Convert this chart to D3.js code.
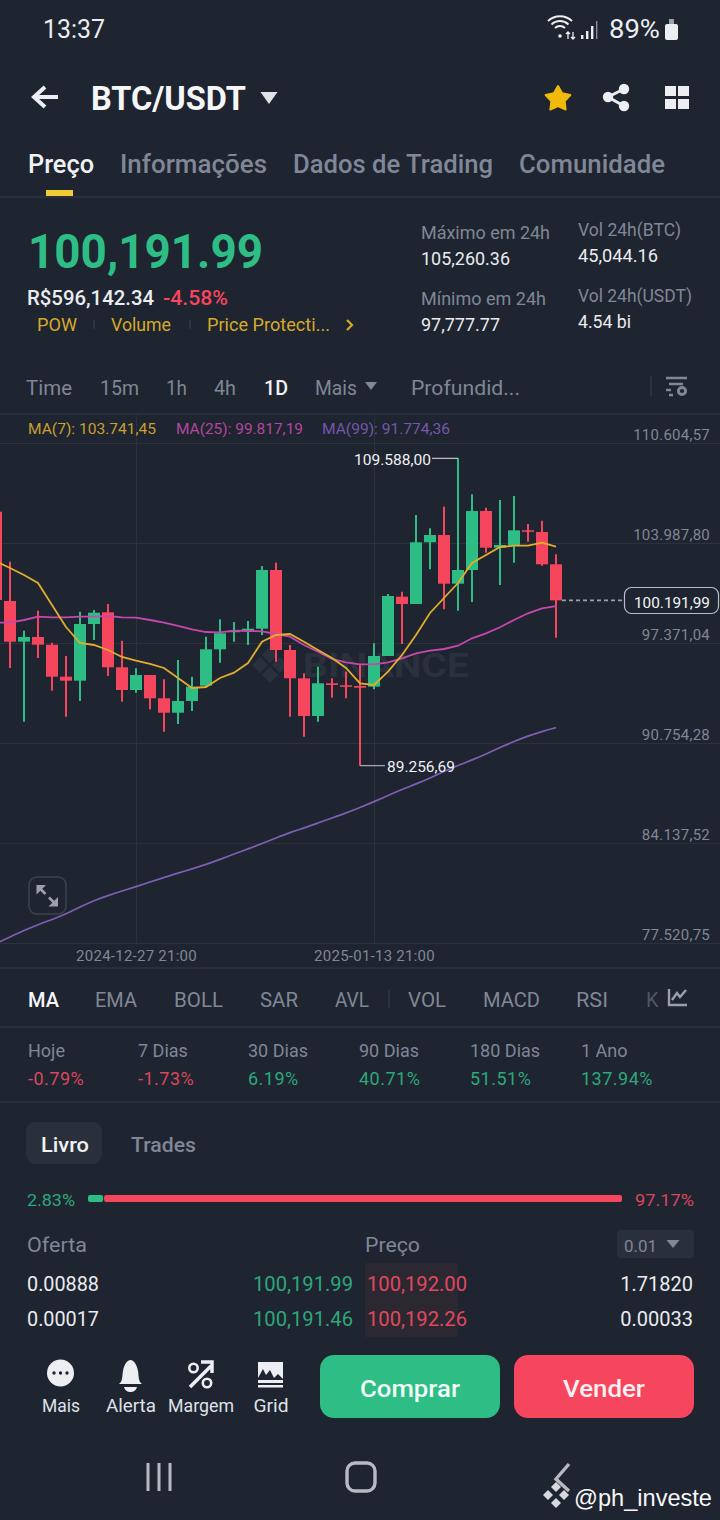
<!DOCTYPE html>
<html>
<head>
<meta charset="utf-8">
<style>
html, body { margin: 0; padding: 0; background: #1e2430; }
svg { display: block; }
text { font-family: Roboto, sans-serif; }
.axis path { display: none; }
.axis line { stroke: #2c323d; }
.axis text { fill: #808796; font-size: 15px; letter-spacing: 0.25px; font-family: Roboto, sans-serif; }
</style>
</head>
<body>
<svg width="720" height="1520"></svg>
<script src="https://d3js.org/d3.v7.min.js"></script>
<script>
// chart data
var days = ["2024-12-17","2024-12-18","2024-12-19","2024-12-20","2024-12-21","2024-12-22","2024-12-23","2024-12-24","2024-12-25","2024-12-26","2024-12-27",
  "2024-12-28","2024-12-29","2024-12-30","2024-12-31","2025-01-01","2025-01-02","2025-01-03","2025-01-04","2025-01-05","2025-01-06",
  "2025-01-07","2025-01-08","2025-01-09","2025-01-10","2025-01-11","2025-01-12","2025-01-13","2025-01-14","2025-01-15","2025-01-16",
  "2025-01-17","2025-01-18","2025-01-19","2025-01-20","2025-01-21","2025-01-22","2025-01-23","2025-01-24","2025-01-25","2025-01-26"];
var opens = [106059,100151,97457,97768,97258,95141,94877,98628,99402,95763,94261,95254,93712,92759,93533,94547,96954,98098,98185,98317,102201,96908,95035,92541,94705,94572,94526,94480,96511,100435,99952,104035,104517,101295,102201,106105,103677,103856,104828,104716,102579];
var highs = [106200,102750,98185,99508,97390,96511,99442,99555,99952,97523,95696,95254,94969,96246,95141,97788,98939,98761,98827,102466,102685,97239,95366,95802,95035,95472,95915,97351,100613,100766,105841,104960,106390,109588,107210,106323,106833,107098,105245,105463,103240];
var lows = [100017,95717,92164,96379,94215,92495,93533,97570,95188,93487,94083,92984,91502,92012,92872,94480,96068,97457,97239,97900,96134,92495,91171,92164,93752,93712,89256.69,94307,96511,97305,99952,102248,99601,99508,100084,103346,101209,102685,104074,102486,97722];
var closes = [100216,97457,97768,97258,95141,94877,98628,99376,95763,94261,95254,93712,92759,93533,94480,96954,98013,98185,98317,102201,96908,95035,92541,94705,94592,94480,94414,96511,100481,99952,104035,104517,101295,102201,106105,103677,103856,104828,104736,102579,100191.99];
var ma7 = [102764,102334,101871,101341,99886,98430,97371,97239,96908,96445,96200,95982,95717,95055,94394,94460,95055,95406,96048,97457,97900,97967,97457,96908,96379,95717,94705,94592,95472,96577,97900,99356,100349,101341,102665,103194,103723,103809,103809,104008,103741.45];
var ma25 = [98714,98714,98893,99111,99071,99071,99111,99111,99158,99071,99045,98893,98714,98496,98277,98098,98079,98185,98165,98145,97967,97788,97239,96795,96313,96094,95962,95962,96094,96359,96690,96861,96974,97192,97682,98013,98410,98893,99336,99667,99817.19];
var ma99 = [77488,77918,78348,78745,79075,79440,79903,80333,80664,80962,81245,81557,81855,82153,82418,82715,83046,83410,83741,84104,84468,84832,85130,85461,85792,86123,86486,86870,87282,87678,88042,88439,88869,89266,89630,90027,90457,90853,91218,91515,91774.36];
var yTicks = [110604.57,103987.80,97371.04,90754.28,84137.52,77520.75];
var xTicks = ["2024-12-27","2025-01-13"];
var lastPrice = 100191.99, highest = 109588.00, lowest = 89256.69;

var perfNames = ["Hoje","7 Dias","30 Dias","90 Dias","180 Dias","1 Ano"];
var perfValues = [-0.79,-1.73,6.19,40.71,51.51,137.94];
var bidShare = 2.83, askShare = 97.17;

var GREEN = "#2ebd85", RED = "#f6465d", GREY = "#808796", WHITE = "#eaecef", GOLD = "#d6a92c";

var svg = d3.select("svg");
svg.append("rect").attr("width", 720).attr("height", 1520).attr("fill", "#1e2430");

// Brazilian number style on the chart
var br = d3.formatLocale({decimal: ",", thousands: ".", grouping: [3], currency: ["R$", ""]}).format(",.2f");

function txt(x, y, s, size, fill, opt) {
    opt = opt || {};
    var t = svg.append("text").attr("x", x).attr("y", y).text(s)
        .attr("font-size", size).attr("fill", fill)
        .attr("text-anchor", opt.anchor || "start")
        .attr("font-weight", opt.weight || 400);
    if (opt.width) t.attr("textLength", opt.width).attr("lengthAdjust", "spacingAndGlyphs");
    if (opt.family) t.style("font-family", opt.family);
    if (opt.opacity) t.attr("opacity", opt.opacity);
    if (opt.spacing) t.style("letter-spacing", opt.spacing + "px");
    return t;
}
function hline(y) {
    svg.append("line").attr("x1", 0).attr("x2", 720).attr("y1", y).attr("y2", y).attr("stroke", "#333a46");
}
function caret(cx, cy, w, h, fill) {
    svg.append("path").attr("d", "M" + (cx - w / 2) + "," + cy + "h" + w + "l" + (-w / 2) + "," + h + "z").attr("fill", fill);
}

// ---- status bar ----
txt(43, 38, "13:37", 26, "#eceef1", {width: 62});
txt(609, 38, "89%", 26, "#eceef1", {width: 51});
svg.append("rect").attr("x", 665).attr("y", 24).attr("width", 13).attr("height", 16).attr("rx", 2).attr("fill", "#eceef1");
svg.append("rect").attr("x", 669).attr("y", 19).attr("width", 5).attr("height", 5).attr("fill", "#9a9ea6");
// wifi
[12, 8.5, 5].forEach(function(r) {
    svg.append("path").attr("d", "M" + (561 - r) + "," + (36 - r * 1.0) + "A" + (r * 1.45) + "," + (r * 1.45) + " 0 0 1 " + (561 + r) + "," + (36 - r * 1.0))
        .attr("fill", "none").attr("stroke", "#eceef1").attr("stroke-width", 2)
        .attr("transform", "translate(-1,-3)");
});
svg.append("circle").attr("cx", 560).attr("cy", 36).attr("r", 1.8).attr("fill", "#eceef1");
svg.append("path").attr("d", "M568,39v-7M566,34l2,-2 2,2M573,32v7M571,37l2,2 2,-2").attr("stroke", "#eceef1").attr("stroke-width", 1.3).attr("fill", "none");
// signal
[[581, 4], [586, 8], [591, 13], [596, 18]].forEach(function(b, i) {
    svg.append("rect").attr("x", b[0]).attr("y", 39 - b[1]).attr("width", i == 3 ? 1.4 : 2.4).attr("height", b[1]).attr("fill", i == 3 ? "#8b8f97" : "#eceef1");
});

// ---- header ----
svg.append("path").attr("d", "M58,97H35M45,87l-11,10 11,10").attr("fill", "none").attr("stroke", "#eceef1").attr("stroke-width", 4);
txt(91, 110, "BTC/USDT", 33, "#f5f6f7", {weight: 700, width: 155});
caret(269, 92, 17, 12, "#dfe2e6");
// star
svg.append("path").attr("d", d3.lineRadial().curve(d3.curveLinearClosed)(d3.range(10).map(function(i) {
        return [i * Math.PI / 5, i % 2 ? 7 : 13];
    })))
    .attr("transform", "translate(558,99)").attr("fill", "#f0b90b")
    .attr("stroke", "#f0b90b").attr("stroke-width", 2).attr("stroke-linejoin", "round");
// share
svg.append("path").attr("d", "M624,89L608,97 624,106").attr("fill", "none").attr("stroke", "#eceef1").attr("stroke-width", 3);
[[624, 89], [608, 97], [624, 106]].forEach(function(c) {
    svg.append("circle").attr("cx", c[0]).attr("cy", c[1]).attr("r", 5.2).attr("fill", "#eceef1");
});
// layout squares
[[665, 86], [678, 86], [665, 99], [678, 99]].forEach(function(c) {
    svg.append("rect").attr("x", c[0]).attr("y", c[1]).attr("width", 11).attr("height", 10).attr("fill", "#eceef1");
});

// ---- tabs ----
txt(28, 173, "Preço", 25, "#f0f1f3", {weight: 500, width: 66});
txt(120, 173, "Informações", 25, GREY, {weight: 500, width: 147});
txt(293, 173, "Dados de Trading", 25, GREY, {weight: 500, width: 200});
txt(519, 173, "Comunidade", 25, GREY, {weight: 500, width: 146});
svg.append("rect").attr("x", 46).attr("y", 190).attr("width", 27).attr("height", 6).attr("fill", "#f0cb35");
hline(197);

// ---- price block ----
txt(28, 268, "100,191.99", 48, GREEN, {weight: 700, width: 235});
txt(27, 305, "R$596,142.34", 20, WHITE, {weight: 500, width: 127});
txt(163, 305, "-4.58%", 20, RED, {weight: 500, width: 65});
txt(37, 331, "POW", 18, GOLD, {width: 40});
txt(111, 331, "Volume", 18, GOLD, {width: 60});
txt(207, 331, "Price Protecti...", 18, GOLD, {width: 123});
svg.append("path").attr("d", "M347,320l5,5 -5,5").attr("fill", "none").attr("stroke", GOLD).attr("stroke-width", 2.2);
[94, 190].forEach(function(x) {
    svg.append("line").attr("x1", x).attr("x2", x).attr("y1", 320).attr("y2", 329).attr("stroke", "#3d4450");
});
txt(421, 239, "Máximo em 24h", 18, GREY, {width: 129});
txt(421, 265, "105,260.36", 18, WHITE, {width: 89});
txt(421, 305, "Mínimo em 24h", 18, GREY, {width: 125});
txt(421, 331, "97,777.77", 18, WHITE, {width: 79});
txt(578, 236, "Vol 24h(BTC)", 18, GREY, {width: 103});
txt(578, 262, "45,044.16", 18, WHITE, {width: 80});
txt(578, 302, "Vol 24h(USDT)", 18, GREY, {width: 114});
txt(578, 328, "4.54 bi", 18, WHITE, {width: 53});

// ---- interval row ----
[["Time", 26, 46], ["15m", 100, 39], ["1h", 166, 21], ["4h", 214, 22], ["Mais", 315, 42], ["Profundid...", 411, 109]].forEach(function(d) {
    txt(d[1], 395, d[0], 21, GREY, {width: d[2]});
});
txt(264, 395, "1D", 21, "#f0f1f3", {weight: 500, width: 24});
caret(371, 382, 12, 8, GREY);
svg.append("line").attr("x1", 651).attr("x2", 651).attr("y1", 376).attr("y2", 396).attr("stroke", "#3a414d");
svg.append("path").attr("d", "M666,378h21M669,384h14M666,390h5M669,395h4").attr("stroke", GREY).attr("stroke-width", 2.6).attr("fill", "none");
svg.append("circle").attr("cx", 682).attr("cy", 391).attr("r", 3.6).attr("fill", "none").attr("stroke", GREY).attr("stroke-width", 3);
hline(414);

// ---- chart ----
var x = d3.scalePoint().domain(days).range([-4, 556]);
var y = d3.scaleLinear().domain([yTicks[5], yTicks[0]]).range([943, 443]);

svg.append("g").attr("class", "axis")
    .attr("transform", "translate(720,0)")
    .call(d3.axisLeft(y).tickValues(yTicks).tickFormat(br).tickSizeInner(720).tickSizeOuter(0))
    .selectAll("text").attr("x", -10).attr("dy", "-3.5");

svg.append("g").attr("class", "axis")
    .attr("transform", "translate(0,943)")
    .call(d3.axisBottom(x).tickValues(xTicks).tickFormat(function(d) { return d + " 21:00"; }).tickSizeInner(-528).tickSizeOuter(0))
    .selectAll("text").attr("y", 18).attr("dy", 0);

// watermark
var wm = svg.append("g").attr("fill", "#2a303c");
[[270, 655], [260, 665], [280, 665], [270, 675]].forEach(function(c) {
    wm.append("path").attr("d", "M" + c[0] + "," + (c[1] - 8) + "l8,8 -8,8 -8,-8z");
});
txt(303, 677, "BINANCE", 33, "#2a303c", {weight: 700, width: 166});

// candles
var idx = d3.range(days.length);
var candles = svg.append("g");
candles.selectAll(".wick").data(idx).enter().append("line")
    .attr("class", "wick")
    .attr("x1", function(i) { return x(days[i]); })
    .attr("x2", function(i) { return x(days[i]); })
    .attr("y1", function(i) { return y(highs[i]); })
    .attr("y2", function(i) { return y(lows[i]); })
    .attr("stroke-width", 2)
    .attr("stroke", function(i) { return closes[i] >= opens[i] ? GREEN : RED; });
candles.selectAll(".body").data(idx).enter().append("rect")
    .attr("class", "body")
    .attr("x", function(i) { return x(days[i]) - 6; })
    .attr("width", 12)
    .attr("y", function(i) { return y(Math.max(opens[i], closes[i])); })
    .attr("height", function(i) { return Math.max(1.5, Math.abs(y(opens[i]) - y(closes[i]))); })
    .attr("fill", function(i) { return closes[i] >= opens[i] ? GREEN : RED; });

// moving averages
var line = d3.line().x(function(d, i) { return x(days[i]); }).y(function(d) { return y(d); });
svg.append("path").attr("d", line.curve(d3.curveBasis)(ma99)).attr("fill", "none").attr("stroke", "#7f5fb5").attr("stroke-width", 1.7);
line.curve(d3.curveLinear);
[[ma25, "#c748ad"], [ma7, "#e0ae2c"]].forEach(function(s) {
    svg.append("path").attr("d", line(s[0])).attr("fill", "none").attr("stroke", s[1]).attr("stroke-width", 1.8);
});

// MA legend
txt(28, 434, "MA(7): " + br(ma7[40]), 15, "#c9a02f", {width: 128});
txt(176, 434, "MA(25): " + br(ma25[40]), 15, "#b3479f", {width: 127});
txt(322, 434, "MA(99): " + br(ma99[40]), 15, "#7657ab", {width: 128});

// last price marker
svg.append("line").attr("x1", 562).attr("x2", 623).attr("y1", y(lastPrice)).attr("y2", y(lastPrice))
    .attr("stroke", "#9aa0ab").attr("stroke-dasharray", "4,3").attr("stroke-width", 1.6);
svg.append("rect").attr("x", 624.5).attr("y", 587.5).attr("width", 94).attr("height", 26).attr("rx", 7)
    .attr("fill", "#1e2430").attr("stroke", "#b7bdc6").attr("stroke-width", 1.2);
txt(672, 608, br(lastPrice), 15, "#f3f4f6", {anchor: "middle", width: 76});

// high / low tags
svg.append("path").attr("d", "M432," + y(highest) + "H" + x("2025-01-19")).attr("stroke", "#c4c8ce").attr("fill", "none").attr("stroke-width", 1.2);
txt(354, 465, br(highest), 15, "#f0f1f3", {width: 77});
svg.append("path").attr("d", "M" + x("2025-01-12") + "," + y(lowest) + "H385").attr("stroke", "#a9aeb6").attr("fill", "none").attr("stroke-width", 1.2);
txt(387, 772, br(lowest), 15, "#f0f1f3", {width: 68});

// expand button
svg.append("rect").attr("x", 29).attr("y", 877).attr("width", 37).attr("height", 37).attr("rx", 8)
    .attr("fill", "#1e2430").attr("fill-opacity", 0.6).attr("stroke", "#3c424e").attr("stroke-width", 1.5);
svg.append("path").attr("d", "M36.500,885h9.500l-9.500,9.500z M58,906.500h-9.500l9.500,-9.500z").attr("fill", "#9a9fa9");
svg.append("path").attr("d", "M40,888.500l5.500,5.500 M54.500,903l-5.500,-5.500").attr("stroke", "#9a9fa9").attr("stroke-width", 2.6);
hline(968);

// ---- indicator row ----
txt(28, 1007, "MA", 20, "#f5f6f7", {weight: 500, width: 31});
[["EMA", 95, 42], ["BOLL", 174, 49], ["SAR", 260, 38], ["AVL", 335, 34], ["VOL", 408, 38], ["MACD", 483, 57], ["RSI", 576, 32]].forEach(function(d) {
    txt(d[1], 1007, d[0], 20, GREY, {width: d[2]});
});
txt(646, 1007, "K", 20, GREY, {opacity: 0.5});
svg.append("line").attr("x1", 389).attr("x2", 389).attr("y1", 990).attr("y2", 1008).attr("stroke", "#3a414d");
svg.append("path").attr("d", "M669,989V1005H687M672,1000l5,-7 3,4 6,-7").attr("fill", "none").attr("stroke", "#9aa0ab").attr("stroke-width", 2.4);
hline(1027);

// ---- performance row ----
[28, 138, 248, 359, 470, 581].forEach(function(px, i) {
    txt(px, 1057, perfNames[i], 18, GREY);
    txt(px, 1085, perfValues[i].toFixed(2) + "%", 18, perfValues[i] < 0 ? "#d9475c" : "#2da87b", {spacing: 0.5});
});
hline(1102);

// ---- order book ----
svg.append("rect").attr("x", 26).attr("y", 1122).attr("width", 76).attr("height", 42).attr("rx", 9).attr("fill", "#2a303b");
txt(41, 1152, "Livro", 20, "#f0f1f3", {weight: 500, width: 48});
txt(131, 1152, "Trades", 20, GREY, {weight: 500, width: 65});

var depth = d3.scaleLinear().domain([0, bidShare + askShare]).range([88, 622]);
txt(27, 1206, bidShare.toFixed(2) + "%", 17, "#2da87b", {width: 48});
svg.append("rect").attr("x", depth(0)).attr("y", 1195).attr("width", depth(bidShare) - depth(0)).attr("height", 7).attr("rx", 2).attr("fill", GREEN);
svg.append("rect").attr("x", depth(bidShare) + 1).attr("y", 1195).attr("width", depth(100) - depth(bidShare) - 1).attr("height", 7).attr("rx", 2).attr("fill", RED);
txt(635, 1206, askShare.toFixed(2) + "%", 17, "#d9475c", {width: 59});

txt(27, 1252, "Oferta", 20, GREY, {width: 60});
txt(365, 1252, "Preço", 20, GREY, {width: 55});
svg.append("rect").attr("x", 617).attr("y", 1230).attr("width", 77).attr("height", 28).attr("rx", 4).attr("fill", "#2a303b");
txt(624, 1252, "0.01", 17, GREY, {width: 33});
caret(673, 1240, 13, 8, GREY);

svg.append("rect").attr("x", 365).attr("y", 1263).attr("width", 93).attr("height", 74).attr("fill", "#2b2832");
[["0.00888", "100,191.99", "100,192.00", "1.71820", 1291], ["0.00017", "100,191.46", "100,192.26", "0.00033", 1326]].forEach(function(r) {
    txt(27, r[4], r[0], 20, WHITE, {width: 72});
    txt(253, r[4], r[1], 20, "#2da87b", {width: 100});
    txt(367, r[4], r[2], 20, "#e0485e", {width: 100});
    txt(693, r[4], r[3], 20, WHITE, {anchor: "end"});
});

// ---- action bar ----
svg.append("circle").attr("cx", 60.5).attr("cy", 1373).attr("r", 13.5).attr("fill", "#eceef1");
[54, 60.5, 67].forEach(function(cx) { svg.append("circle").attr("cx", cx).attr("cy", 1373).attr("r", 1.7).attr("fill", "#1e2430"); });
svg.append("path").attr("d", "M119,1384c4,-3 3,-8 4,-13c1,-6 4,-11 7.500,-11s6.500,5 7.500,11c1,5 0,10 4,13z M124,1387h13c-1,4 -4,5 -6.500,5s-5.500,-1 -6.500,-5z").attr("fill", "#eceef1");
svg.append("path").attr("d", "M190,1387L211,1366M201,1362h11v11").attr("fill", "none").attr("stroke", "#eceef1").attr("stroke-width", 3.5);
svg.append("circle").attr("cx", 193.500).attr("cy", 1368).attr("r", 4.200).attr("fill", "none").attr("stroke", "#eceef1").attr("stroke-width", 2.6);
svg.append("circle").attr("cx", 207).attr("cy", 1383).attr("r", 4.200).attr("fill", "none").attr("stroke", "#eceef1").attr("stroke-width", 2.6);
svg.append("path").attr("d", "M258,1362h25v17l-5,-5 -4,4 -4,-8 -4,5 -3,-6 -5,9z M258,1385h25v2.500h-25z M258,1380h25v3h-25z").attr("fill", "#eceef1");
[["Mais", 61, 38], ["Alerta", 131, 50], ["Margem", 201, 66], ["Grid", 271, 35]].forEach(function(d) {
    txt(d[1], 1412, d[0], 18, "#dfe2e6", {anchor: "middle", width: d[2]});
});
svg.append("rect").attr("x", 320).attr("y", 1355).attr("width", 180).attr("height", 63).attr("rx", 14).attr("fill", GREEN);
svg.append("rect").attr("x", 514).attr("y", 1355).attr("width", 180).attr("height", 63).attr("rx", 14).attr("fill", RED);
txt(410, 1397, "Comprar", 24, "#f1faf6", {anchor: "middle", weight: 500, width: 100});
txt(604, 1397, "Vender", 24, "#fdf0f2", {anchor: "middle", weight: 500, width: 82});

// ---- nav bar and overlay ----
[148, 159, 170].forEach(function(px) {
    svg.append("line").attr("x1", px).attr("x2", px).attr("y1", 1463).attr("y2", 1491).attr("stroke", "#b7bbc1").attr("stroke-width", 3);
});
svg.append("rect").attr("x", 347).attr("y", 1463).attr("width", 28).attr("height", 28).attr("rx", 8).attr("fill", "none").attr("stroke", "#b7bbc1").attr("stroke-width", 3.4);
svg.append("path").attr("d", "M569,1464L556,1479 569,1491").attr("fill", "none").attr("stroke", "#b7bbc1").attr("stroke-width", 3.4);
[[556, 1487], [548, 1495], [564, 1495], [556, 1503]].forEach(function(c) {
    svg.append("path").attr("d", "M" + c[0] + "," + (c[1] - 5) + "l5,5 -5,5 -5,-5z").attr("fill", "#d7d9dd");
});
txt(574, 1506, "@ph_investe", 24.5, "#f7f7f7", {family: "'Liberation Sans', sans-serif", width: 138});
</script>
</body>
</html>
